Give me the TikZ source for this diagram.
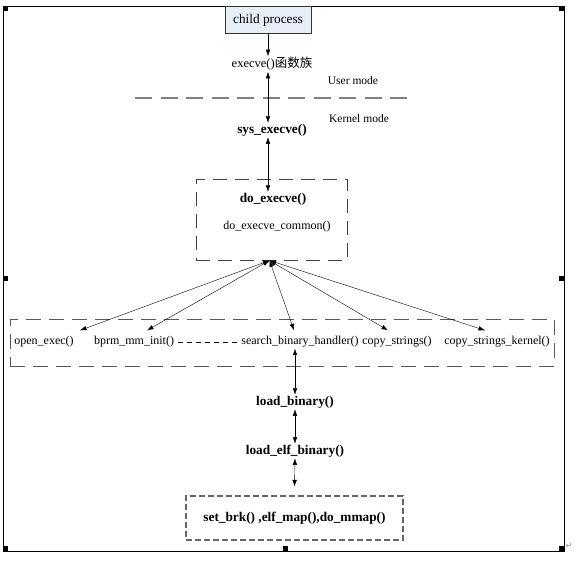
\documentclass[tikz,border=0pt]{standalone}
\usepackage{fontspec}
\setmainfont{Liberation Serif}
\newfontfamily\cjkfont{Noto Sans CJK SC}
\newfontfamily\symfont{DejaVu Sans}
\usetikzlibrary{arrows.meta}
\definecolor{procfill}{HTML}{E8EEF8}
\begin{document}
\begin{tikzpicture}[
	x=1pt, y=-1pt,
	>={Latex[length=6.5pt,width=4.5pt]},
	func/.style={ inner sep=1pt, font=\fontsize{12}{14}\selectfont },
	funcb/.style={ inner sep=1pt, font=\fontsize{13.3}{15}\selectfont\bfseries },
	modelabel/.style={ inner sep=1pt, font=\fontsize{11.5}{13}\selectfont },
	procbox/.style={ draw=black!80, fill=procfill, inner sep=0pt, minimum width=86pt, minimum height=27pt, font=\fontsize{13.3}{15}\selectfont },
	dashbox/.style={ draw=black!75, dash pattern=on 14pt off 8pt, line width=1pt, inner sep=0pt },
	handle/.style={ fill=black, inner sep=0pt, minimum size=5pt },
	link/.style={ <->, thin }
]
\useasboundingbox (0,0) rectangle (576,560);

% frame of the picture
\draw[line width=0.9pt] (3,6) rectangle (564,551);
\foreach \hx/\hy in {5.5/8.5, 285.5/8.5, 561.5/8.5, 5.5/278.5, 561.5/278.5, 5.5/548.5, 285.5/548.5, 561.5/548.5}
	\node[handle] at (\hx,\hy) {};
\node[inner sep=0pt, text=black!45, font=\symfont\fontsize{8}{9}\selectfont] (retmark) at (569,546) {↵};

% user space
\node[procbox] (child) at (268,20) {child process};
\node[func, font=\fontsize{12.5}{14}\selectfont] (execve) at (272,64) {execve()\cjkfont 函数族};
\node[modelabel] (usermode) at (353,81) {User mode};
\draw[black!50, line width=1.6pt, dash pattern=on 17pt off 8.5pt] (135,98) -- (412,98);
\node[modelabel] (kernelmode) at (359,119) {Kernel mode};

% kernel side
\node[funcb] (sysexecve) at (272,130) {sys\_execve()};
\node[dashbox, minimum width=151pt, minimum height=81pt] (doexecbox) at (271.5,219.5) {};
\node[funcb] (doexecve) at (273,199) {do\_execve()};
\node[func] (doexeccommon) at (277,227) {do\_execve\_common()};

\draw[->] (child.south) -- (child.south |- execve.north);
\draw[link] (child.south |- execve.south) -- (child.south |- sysexecve.north);
\draw[link] (child.south |- sysexecve.south) -- (child.south |- doexecve.north);

% helpers called from do_execve
\node[dashbox, draw=black!65, dash pattern=on 15pt off 8pt, minimum width=544pt, minimum height=47pt] (rowbox) at (282,342.5) {};
\node[func] (openexec) at (44,342) {open\_exec()};
\node[func] (bprmmm) at (134,342) {bprm\_mm\_init()};
\node[func] (searchbin) at (300,342) {search\_binary\_handler()};
\node[func] (copystr) at (397,342) {copy\_strings()};
\node[func] (copystrk) at (497,342) {copy\_strings\_kernel()};
\draw[dash pattern=on 5pt off 4pt, shorten <=3pt, shorten >=3pt] (bprmmm.east) -- (searchbin.west);

\foreach \p/\dx in {openexec/36, bprmmm/13, searchbin/-6, copystr/-9, copystrk/-12}
	\draw[link] ([xshift=-2pt]doexecbox.south) to ([xshift=\dx pt, yshift=5pt]\p.north);

% binary loaders
\node[funcb] (loadbin) at (295,402) {load\_binary()};
\node[funcb] (loadelf) at (295,451) {load\_elf\_binary()};
\node[dashbox, draw=black!60, dash pattern=on 6pt off 3pt, line width=1.1pt, minimum width=217pt, minimum height=44pt, funcb] (mmapbox) at (294.5,518) {set\_brk() ,elf\_map(),do\_mmap()};

\draw[link] (loadbin.north |- searchbin.south) -- (loadbin.north);
\draw[link] (loadbin.south) -- (loadelf.north);
\draw[link] (loadelf.south) -- ([yshift=9pt]mmapbox.north);

\end{tikzpicture}
\end{document}
